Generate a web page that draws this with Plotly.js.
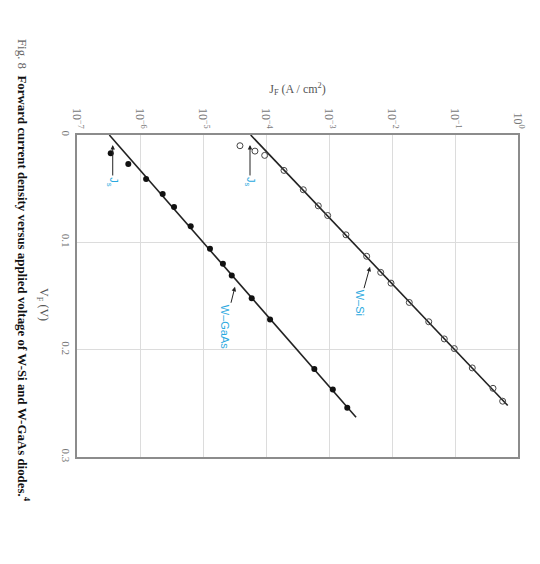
<!DOCTYPE html>
<html>
<head>
<meta charset="utf-8">
<script src="https://cdn.plot.ly/plotly-3.0.1.min.js"></script>
<style>
  html, body { margin: 0; padding: 0; background: #fff; }
  #chart { width: 540px; height: 564px; }
</style>
</head>
<body>
<div id="chart"></div>
<script>
// figure is printed rotated: J_F runs across, V_F runs down the page
// W-GaAs measured points (filled)
var gaasV = [0.017, 0.027, 0.041, 0.055, 0.067, 0.085, 0.106, 0.120, 0.131, 0.152, 0.172, 0.218, 0.237, 0.254];
var gaasJ = [3.43e-7, 6.52e-7, 1.25e-6, 2.29e-6, 3.47e-6, 6.38e-6, 1.29e-5, 2.07e-5, 2.86e-5, 5.93e-5, 1.16e-4, 5.85e-4, 1.15e-3, 1.95e-3];
// W-Si measured points (open)
var siV = [0.010, 0.015, 0.019, 0.033, 0.051, 0.066, 0.075, 0.093, 0.113, 0.128, 0.138, 0.156, 0.174, 0.190, 0.199, 0.217, 0.236, 0.248];
var siJ = [3.86e-5, 6.68e-5, 9.53e-5, 1.93e-4, 3.91e-4, 6.76e-4, 9.53e-4, 1.86e-3, 3.96e-3, 6.62e-3, 9.64e-3, 1.88e-2, 3.83e-2, 6.76e-2, 9.75e-2, 0.188, 0.401, 0.571];
// fitted straight lines (end points)
var gaasFitV = [0, 0.263];
var gaasFitJ = [3.26e-7, 2.69e-3];
var siFitV = [0, 0.252];
var siFitJ = [5.71e-5, 0.687];
// axis ticks
var jTicks = [1e-7, 1e-6, 1e-5, 1e-4, 1e-3, 1e-2, 1e-1, 1];
var jTickText = ['10<sup>−7</sup>', '10<sup>−6</sup>', '10<sup>−5</sup>', '10<sup>−4</sup>',
                 '10<sup>−3</sup>', '10<sup>−2</sup>', '10<sup>−1</sup>', '10<sup>0</sup>'];
var vTicks = [0, 0.1, 0.2, 0.3];
var vTickText = ['0', '0.1', '0.2', '0.3'];

var serif = 'Liberation Serif, Times New Roman, serif';
var sans = 'Liberation Sans, Arial, sans-serif';
var cyan = '#2aa9e0';

var data = [
  {x: gaasFitJ, y: gaasFitV, mode: 'lines', line: {color: '#222', width: 1.6}, hoverinfo: 'skip'},
  {x: siFitJ, y: siFitV, mode: 'lines', line: {color: '#222', width: 1.6}, hoverinfo: 'skip'},
  {x: gaasJ, y: gaasV, mode: 'markers', name: 'W-GaAs',
   marker: {symbol: 'circle', size: 6, color: '#111'}},
  {x: siJ, y: siV, mode: 'markers', name: 'W-Si',
   marker: {symbol: 'circle-open', size: 6, color: '#444', line: {width: 1}}}
];

var layout = {
  width: 540,
  height: 564,
  margin: {l: 77, r: 22, t: 135, b: 107},
  showlegend: false,
  paper_bgcolor: '#fff',
  plot_bgcolor: '#fff',
  font: {family: serif, color: '#666', size: 11},
  xaxis: {
    type: 'log',
    range: [-7, 0],
    side: 'top',
    tickvals: jTicks,
    ticktext: jTickText,
    tickangle: 90,
    ticks: '',
    showgrid: true,
    gridcolor: '#dcdcdc',
    gridwidth: 1,
    zeroline: false,
    showline: true,
    mirror: true,
    linecolor: '#8c8c8c',
    linewidth: 2,
    tickfont: {family: serif, size: 12, color: '#777'},
    title: {text: 'J<sub>F</sub> (A / cm<sup>2</sup>)', standoff: 12,
            font: {family: serif, size: 12, color: '#555'}}
  },
  yaxis: {
    range: [0.3, 0],
    tickvals: vTicks,
    ticktext: vTickText,
    tickangle: 90,
    ticks: '',
    showgrid: true,
    gridcolor: '#dcdcdc',
    gridwidth: 1,
    zeroline: false,
    showline: true,
    mirror: true,
    linecolor: '#8c8c8c',
    linewidth: 2,
    tickfont: {family: serif, size: 11, color: '#777'}
  },
  annotations: [
    {xref: 'paper', yref: 'paper', x: -0.1, y: 0.472, text: 'V<sub>F</sub> (V)',
     textangle: 90, showarrow: false, font: {family: serif, size: 12, color: '#555'}},
    {xref: 'paper', yref: 'paper', x: -0.143, y: 0.578, textangle: 90, showarrow: false,
     text: '<span style="color:#666">Fig. 8</span>  <b>Forward current density versus applied voltage of W-Si and W-GaAs diodes.<sup>4</sup></b>',
     font: {family: serif, size: 12.9, color: '#111'}},
    // J_s markers
    {x: -6.433, y: 0.0093, text: 'J<sub>s</sub>', textangle: 90, showarrow: true,
     arrowhead: 2, arrowsize: 0.9, arrowwidth: 1, arrowcolor: '#222', ax: 0, ay: 37,
     font: {family: sans, size: 11, color: cyan}},
    {x: -4.254, y: 0.0093, text: 'J<sub>s</sub>', textangle: 90, showarrow: true,
     arrowhead: 2, arrowsize: 0.9, arrowwidth: 1, arrowcolor: '#222', ax: 0, ay: 37,
     font: {family: sans, size: 11, color: cyan}},
    // curve labels
    {x: -2.349, y: 0.1227, text: 'W–Si', textangle: 90, showarrow: true,
     arrowhead: 2, arrowsize: 0.9, arrowwidth: 1, arrowcolor: '#222', ax: -10, ay: 36,
     font: {family: sans, size: 11, color: cyan}},
    {x: -4.492, y: 0.1414, text: 'W–GaAs', textangle: 90, showarrow: true,
     arrowhead: 2, arrowsize: 0.9, arrowwidth: 1, arrowcolor: '#222', ax: -10, ay: 40,
     font: {family: sans, size: 11, color: cyan}}
  ]
};

Plotly.newPlot('chart', data, layout, {displayModeBar: false, staticPlot: true});
</script>
</body>
</html>
